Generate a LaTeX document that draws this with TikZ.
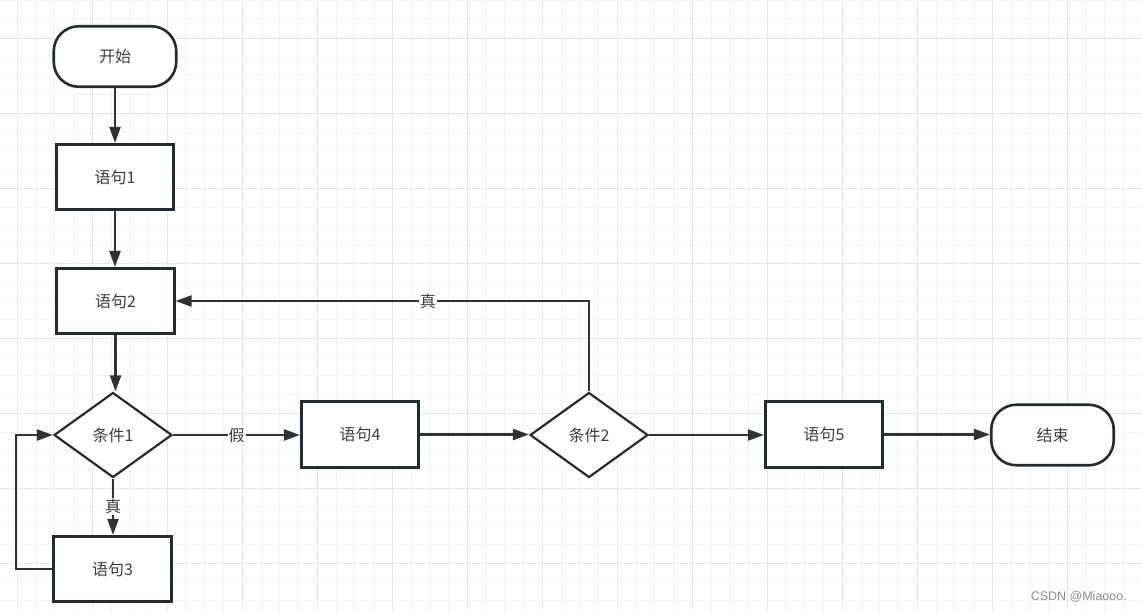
\documentclass[tikz,border=0pt]{standalone}
\usepackage{fontspec}
\setmainfont{Noto Sans CJK SC}
\newfontfamily\wmfont{Liberation Sans}
\usetikzlibrary{shapes.geometric,arrows.meta}
\definecolor{ink}{RGB}{38,43,48}
\definecolor{lnk}{RGB}{48,50,52}
\definecolor{txt}{RGB}{60,60,60}
\definecolor{gminor}{RGB}{242,242,242}
\definecolor{gmajor}{RGB}{230,230,230}
\definecolor{wm}{RGB}{140,140,140}
\tikzset{
  base/.style={draw=ink, line width=2.6pt, fill=white, text=txt, font=\fontsize{16}{19}\selectfont, inner sep=0pt},
  term/.style={base, rounded corners=25pt, minimum width=122.5pt, minimum height=60.5pt},
  stmt/.style={base, minimum width=117.5pt, minimum height=65.5pt},
  cond/.style={base, diamond, aspect=1.375, line width=2.2pt, minimum width=118pt, minimum height=85pt},
  conn/.style={draw=lnk, line width=2.3pt, -{Triangle[length=16pt,width=11pt]}},
  lbl/.style={fill=white, text=txt, inner sep=1pt, font=\fontsize{16}{19}\selectfont},
}
\begin{document}
\begin{tikzpicture}[x=1pt,y=-1pt]
\fill[white] (0,0) rectangle (1141,611);
\useasboundingbox (0,0) rectangle (1141,611);
% grid
\foreach \i in {0,...,61} {\draw[gminor, line width=1pt] ({-1.45+18.75*\i},0) -- ({-1.45+18.75*\i},611);}
\foreach \i in {0,...,32} {\draw[gminor, line width=1pt] (0,{0.8+18.75*\i}) -- (1141,{0.8+18.75*\i});}
\foreach \i in {0,...,14} {\draw[gmajor, line width=1pt] ({17.3+75*\i},0) -- ({17.3+75*\i},611);}
\foreach \i in {0,...,7} {\draw[gmajor, line width=1pt] (0,{38.3+75*\i}) -- (1141,{38.3+75*\i});}
% nodes
\node[term] (start) at (115,56.5) {开始};
\node[stmt] (s1) at (115,177) {语句1};
\node[stmt] (s2) at (115.5,301) {语句2};
\node[cond] (c1) at (113,435) {条件1};
\node[stmt] (s3) at (112.5,569) {语句3};
\node[stmt] (s4) at (360,434.5) {语句4};
\node[cond] (c2) at (589,435) {条件2};
\node[stmt] (s5) at (824,434.5) {语句5};
\node[term] (end) at (1052.5,435) {结束};
\coordinate (lp) at (16,569);
% connectors
\draw[conn] (start) -- (s1);
\draw[conn] (s1.south) -- (s1.south |- s2.north);
\draw[conn] (s2.south) -- (s2.south |- c1.north);
\draw[conn] (c1.south) -- (c1.south |- s3.north) node[lbl, pos=0.5] {真};
\draw[conn] (c1.east) -- (c1.east -| s4.west) node[lbl, pos=0.5] {假};
\draw[conn] (s3.west) -- (lp) |- (c1.west);
\draw[conn] (s4.east) -- (s4.east -| c2.west);
\draw[conn] (c2.north) |- (s2.east) node[lbl, pos=0.695] {真};
\draw[conn] (c2.east) -- (c2.east -| s5.west);
\draw[conn] (s5.east) -- (s5.east -| end.west);
% watermark
\node[anchor=east, text=wm, font=\wmfont\fontsize{12.5}{14}\selectfont, inner sep=0pt] (wmk) at (1127,597) {CSDN @Miaooo.};
\end{tikzpicture}
\end{document}
